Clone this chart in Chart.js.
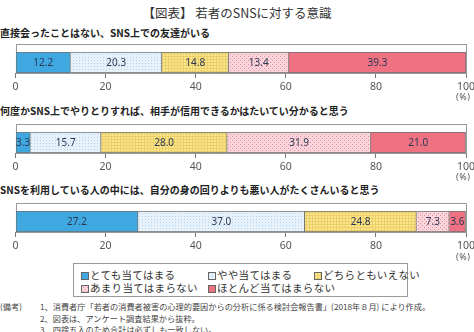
<!DOCTYPE html>
<html lang="ja">
<head>
<meta charset="utf-8">
<script src="https://cdn.jsdelivr.net/npm/chart.js@4"></script>
<style>
html,body{margin:0;padding:0;background:#fff;}
body{width:474px;height:332px;position:relative;overflow:hidden;font-family:"Noto Sans CJK JP","Noto Sans",sans-serif;color:#333;}
.abs{position:absolute;white-space:nowrap;line-height:1;}
#title{left:0;width:474px;top:7px;text-align:center;font-size:12.5px;color:#333;}
.qt{left:0;font-size:10px;font-weight:bold;color:#222;}
.pct{left:456px;font-size:9px;color:#555;font-family:"Noto Sans",sans-serif;letter-spacing:0.5px;}
canvas.c{position:absolute;left:0;}
#legend{left:73px;top:263px;width:333px;height:32px;border:1px solid #9a9a9a;}
.li{position:absolute;font-size:10.5px;color:#333;white-space:nowrap;line-height:1;letter-spacing:0.3px;}
.li canvas{position:absolute;left:-9px;top:2px;}
.note{font-size:8.2px;color:#444;}
</style>
</head>
<body>
<div id="title" class="abs">【図表】 若者のSNSに対する意識</div>
<div id="q0" class="abs qt" style="top:28px">直接会ったことはない、SNS上での友達がいる</div>
<div id="q1" class="abs qt" style="top:106px">何度かSNS上でやりとりすれば、相手が信用できるかはたいてい分かると思う</div>
<div id="q2" class="abs qt" style="top:185px">SNSを利用している人の中には、自分の身の回りよりも悪い人がたくさんいると思う</div>
<canvas id="c0" class="c" width="490" height="51" style="top:44px"></canvas>
<canvas id="c1" class="c" width="490" height="51" style="top:124px"></canvas>
<canvas id="c2" class="c" width="490" height="51" style="top:203px"></canvas>
<div class="abs pct" style="top:92px">(%)</div>
<div class="abs pct" style="top:172px">(%)</div>
<div class="abs pct" style="top:252px">(%)</div>
<div id="legend" class="abs"></div>
<div class="abs note" style="left:0;top:302px">(備考)</div>
<div class="abs note" style="left:40px;top:302px">1、消費者庁「若者の消費者被害の心理的要因からの分析に係る検討会報告書」(2018年８月) により作成。</div>
<div class="abs note" style="left:40px;top:313.5px">2、図表は、アンケート調査結果から抜粋。</div>
<div class="abs note" style="left:40px;top:324.5px">3、四捨五入のため合計は必ずしも一致しない。</div>
<script>
// Survey statements (one stacked bar each)
const categories = [
  '直接会ったことはない、SNS上での友達がいる',
  '何度かSNS上でやりとりすれば、相手が信用できるかはたいてい分かると思う',
  'SNSを利用している人の中には、自分の身の回りよりも悪い人がたくさんいると思う'
];
// Answer options
const seriesNames = ['とても当てはまる', 'やや当てはまる', 'どちらともいえない', 'あまり当てはまらない', 'ほとんど当てはまらない'];
// Shares (%) per answer, one value per statement
const veryTrue     = [12.2, 3.3, 27.2];
const somewhatTrue = [20.3, 15.7, 37.0];
const neutral      = [14.8, 28.0, 24.8];
const notReally    = [13.4, 31.9, 7.3];
const notAtAll     = [39.3, 21.0, 3.6];
const series = [veryTrue, somewhatTrue, neutral, notReally, notAtAll];

// Fill styles: solid or small repeating patterns
function tile(w, h, draw) {
  const c = document.createElement('canvas');
  c.width = w; c.height = h;
  draw(c.getContext('2d'));
  return c.getContext('2d').createPattern(c, 'repeat');
}
const fills = [
  '#3fa8e0',
  tile(3, 3, g => { g.fillStyle = '#e8f2fb'; g.fillRect(0,0,3,3); g.fillStyle = '#b3d2ec'; g.fillRect(1,1,1,1); }),
  tile(3, 3, g => { g.fillStyle = '#fbe68a'; g.fillRect(0,0,3,3); g.fillStyle = '#ebcf6a'; g.fillRect(0,0,3,1); g.fillRect(0,0,1,3); }),
  tile(4, 4, g => { g.fillStyle = '#fbd5dc'; g.fillRect(0,0,4,4); g.fillStyle = '#ea8da0'; g.fillRect(0,0,1,1); g.fillRect(2,2,1,1); }),
  '#ee7282'
];

// Outline around the plot region
const frame = {
  id: 'frame',
  beforeDatasetsDraw(chart) {
    const a = chart.chartArea, ctx = chart.ctx;
    ctx.save();
    ctx.strokeStyle = '#9a9a9a';
    ctx.lineWidth = 1;
    ctx.strokeRect(Math.round(a.left) + 0.5, Math.round(a.top) - 7.5, Math.round(a.right - a.left) - 1, Math.round(a.bottom - a.top) + 8);
    ctx.restore();
  }
};

// Value printed in the middle of each segment
const valueLabels = {
  id: 'valueLabels',
  afterDatasetsDraw(chart) {
    const ctx = chart.ctx;
    ctx.save();
    ctx.font = '10px "Noto Sans", sans-serif';
    ctx.fillStyle = '#2c3856';
    ctx.textAlign = 'center';
    ctx.textBaseline = 'middle';
    chart.data.datasets.forEach((ds, i) => {
      chart.getDatasetMeta(i).data.forEach((bar, j) => {
        ctx.fillText(ds.data[j].toFixed(1), (bar.x + bar.base) / 2, bar.y + 0.5);
      });
    });
    ctx.restore();
  }
};

categories.forEach((cat, k) => {
  new Chart(document.getElementById('c' + k), {
    type: 'bar',
    data: {
      labels: [cat],
      datasets: seriesNames.map((name, i) => ({
        label: name,
        data: [series[i][k]],
        backgroundColor: fills[i],
        borderColor: '#707070',
        borderWidth: { top: 1, bottom: 1, right: 1, left: i === 0 ? 1 : 0 },
        borderSkipped: false,
        barPercentage: 1,
        categoryPercentage: 1
      }))
    },
    options: {
      indexAxis: 'y',
      responsive: false,
      animation: false,
      devicePixelRatio: 1,
      layout: { padding: { left: 15.5, right: 24, top: 8, bottom: 0 } },
      plugins: { legend: { display: false }, tooltip: { enabled: false } },
      scales: {
        x: {
          stacked: true, min: 0, max: 100,
          ticks: { stepSize: 20, color: '#555', font: { family: 'Noto Sans', size: 10.5 }, padding: 3, maxRotation: 0, autoSkip: false },
          grid: { drawOnChartArea: false, drawTicks: true, tickLength: 5, color: '#777' },
          border: { display: false },
          afterFit(s) { s.height = 22; }
        },
        y: { stacked: true, display: false }
      }
    },
    plugins: [frame, valueLabels]
  });
});

// Legend built from the same names and fills
const legendPos = [[16, 6], [143, 6], [249, 6], [16, 19], [143, 19]];
const legend = document.getElementById('legend');
seriesNames.forEach((name, i) => {
  const d = document.createElement('div');
  d.className = 'li';
  d.style.left = legendPos[i][0] + 'px';
  d.style.top = legendPos[i][1] + 'px';
  const sw = document.createElement('canvas');
  sw.width = 8; sw.height = 8;
  const g = sw.getContext('2d');
  g.fillStyle = '#666'; g.fillRect(0, 0, 8, 8);
  g.fillStyle = fills[i]; g.fillRect(1, 1, 6, 6);
  d.appendChild(sw);
  d.appendChild(document.createTextNode(name));
  legend.appendChild(d);
});
</script>
</body>
</html>
